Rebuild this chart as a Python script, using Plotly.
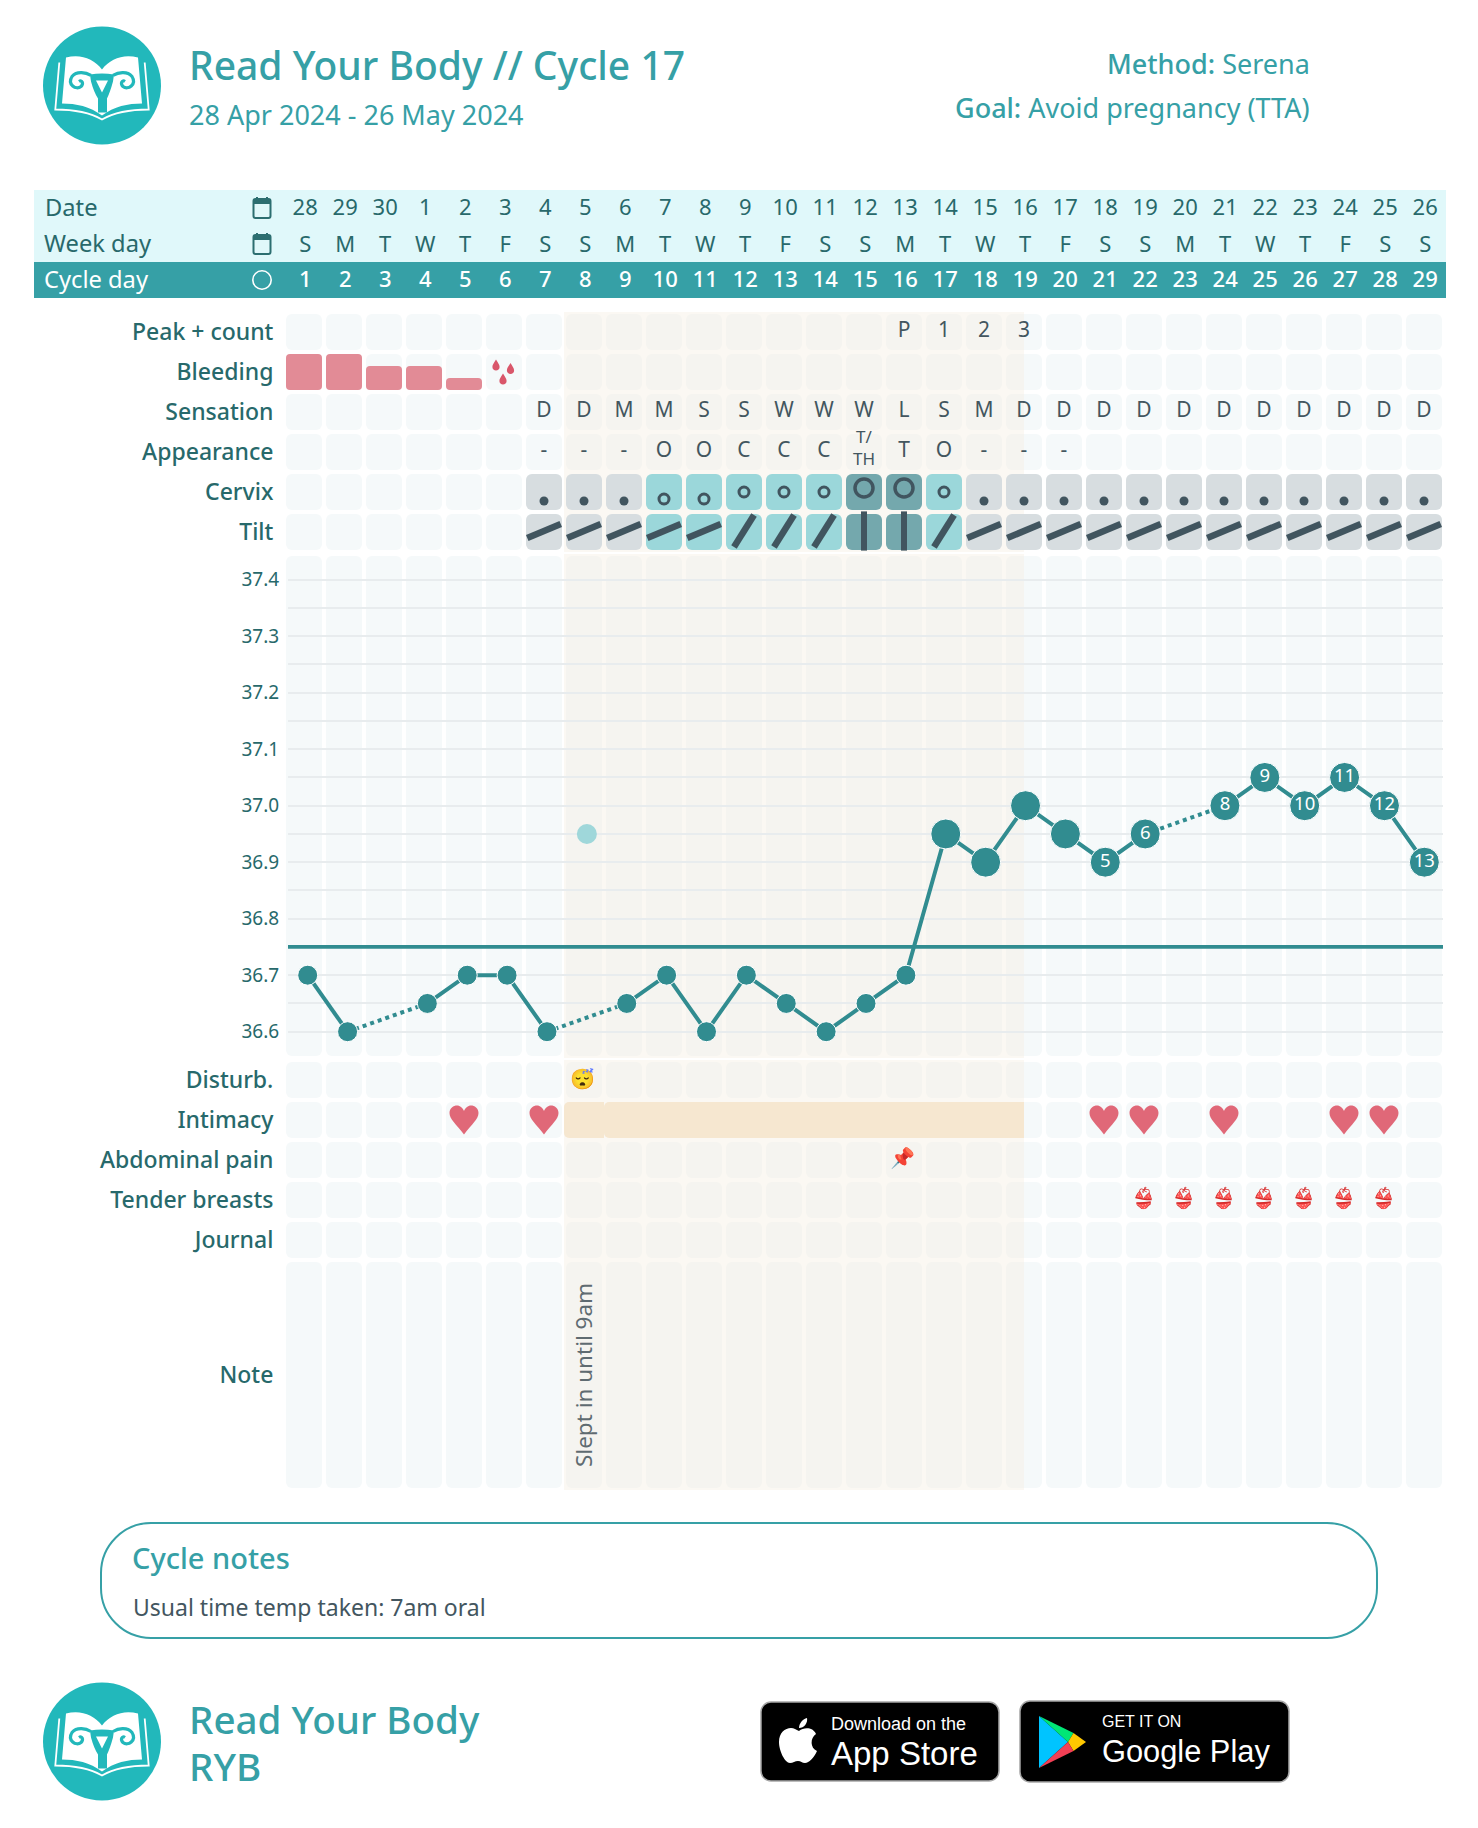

import plotly.graph_objects as go

W, H = 1478, 1828
FONT = "Noto Sans"
TICKFONT = "Noto Sans"
TEAL = "#36a0a6"; DTEAL = "#318c90"; LOGO = "#22b8bb"; LABEL = "#27696b"; INK = "#43565f"
CELL = "#f5f9fa"; GREY = "#d7dde0"; MID = "#9bd7da"; DARK = "#74a8ad"; GLYPH = "#41555f"

# ---------- data ----------
DAYS = list(range(1, 30))
DATES = ["28","29","30","1","2","3","4","5","6","7","8","9","10","11","12","13","14","15","16","17","18","19","20","21","22","23","24","25","26"]
WEEKDAYS = list("SMTWTFSSMTWTFSSMTWTFSSMTWTFSS")
CYCLE_DAYS = [str(d) for d in DAYS]
PEAK_DAYS = [16, 17, 18, 19]
PEAK_TEXT = ["P", "1", "2", "3"]
BLEED_DAYS = [1, 2, 3, 4, 5]
BLEED_LEVEL = [3, 3, 2, 2, 1]
SPOTTING_DAY = 6
OBS_DAYS = list(range(7, 30))
SENSATION = list("DDMMSSWWWLSMDDDDDDDDDDD")
APPEAR_DAYS = [7, 8, 9, 10, 11, 12, 13, 14, 16, 17, 18, 19, 20]
APPEARANCE = ["-", "-", "-", "O", "O", "C", "C", "C", "T", "O", "-", "-", "-"]
APPEAR_SPLIT_DAY = [15]
APPEAR_SPLIT = ["T/<br>TH"]
CERVIX = list("LLLmmMMMHHMLLLLLLLLLLLL")
TILT = list("LLLLLSSSVVSLLLLLLLLLLLL")
TEMPS = [36.7, 36.6, None, 36.65, 36.7, 36.7, 36.6, None, 36.65, 36.7, 36.6, 36.7, 36.65, 36.6, 36.65,
         36.7, 36.95, 36.9, 37.0, 36.95, 36.9, 36.95, None, 37.0, 37.05, 37.0, 37.05, 37.0, 36.9]
EXCLUDED_DAY = [8]
EXCLUDED_TEMP = [36.95]
COUNTS = [""] * 20 + ["5", "6", "", "8", "9", "10", "11", "12", "13"]
COVERLINE = 36.75
TEMP_TICKS = [36.6, 36.65, 36.7, 36.75, 36.8, 36.85, 36.9, 36.95, 37.0, 37.05, 37.1, 37.15, 37.2, 37.25, 37.3, 37.35, 37.4]
TEMP_LABELS = ["36.6", "", "36.7", "", "36.8", "", "36.9", "", "37.0", "", "37.1", "", "37.2", "", "37.3", "", "37.4"]
INTIMACY_DAYS = [5, 7, 21, 22, 24, 27, 28]
FERTILE_START, FERTILE_END = 7.5, 19.0
INTIMACY_SPANS = [(7.5, 8.5), (8.5, 19.0)]
DISTURB = [(8, "😴")]
PAIN = [(16, "📌")]
BREAST_DAYS = [22, 23, 24, 25, 26, 27, 28]
NOTE_DAY = 8
NOTE_TEXT = "Slept in until 9am"
ROW_NAMES = ["Peak + count", "Bleeding", "Sensation", "Appearance", "Cervix", "Tilt", "Disturb.", "Intimacy",
             "Abdominal pain", "Tender breasts", "Journal", "Note"]

# ---------- layout geometry ----------
X0, PITCH = 304.0, 40.0
X0T, PITCHT = 307.7, 39.88          # the temperature plot has its own slightly narrower day scale
ROW0, RPITCH = 332.0, 40.0
def xval(px): return (px - X0) / PITCH + 1
def xtval(px): return (px - X0T) / PITCHT + 1
def rval(py): return (py - ROW0) / RPITCH
T_Y, T_PITCH = 805.7, 565.0
def tval(py): return 37.0 - (py - T_Y) / T_PITCH
ROW_POS = {"Peak + count": 0, "Bleeding": 1, "Sensation": 2, "Appearance": 3, "Cervix": 4, "Tilt": 5,
           "Disturb.": rval(1080), "Intimacy": rval(1120), "Abdominal pain": rval(1160),
           "Tender breasts": rval(1200), "Journal": rval(1240), "Note": rval(1375)}
ROW_H = {n: 0.9 for n in ROW_NAMES}
ROW_H["Note"] = 226 / RPITCH
CHART_ROW, CHART_H = rval(806), 500 / RPITCH
HDR = {"date": rval(209.5), "week": rval(246), "cycle": rval(281.5)}
HDR_DX = 1.2 / PITCH
CW = 36 / PITCH

fig = go.Figure()

def cells(days, centers, heights, colors, y, r=6):
    # a bar given a base has all four corners rounded
    fig.add_trace(go.Bar(x=days, y=list(heights), base=[c - h / 2 for c, h in zip(centers, heights)], width=CW,
                         marker=dict(color=colors, cornerradius=r, line=dict(width=0)),
                         xaxis="x", yaxis=y, hoverinfo="skip", showlegend=False))

def texts(x, y, t, size, color, ya="y3", xa="x", family=FONT, weight=400):
    fig.add_trace(go.Scatter(x=x, y=y, text=t, mode="text", textposition="middle center",
                             textfont=dict(family=family, size=size, color=color, weight=weight),
                             xaxis=xa, yaxis=ya, hoverinfo="skip", showlegend=False, cliponaxis=False))

# background cells
cx, cy, ch = [], [], []
for n in ROW_NAMES:
    for d in DAYS:
        cx.append(d); cy.append(ROW_POS[n]); ch.append(ROW_H[n])
for d in DAYS:
    cx.append(d); cy.append(CHART_ROW); ch.append(CHART_H)
cells(cx, cy, ch, CELL, "y")

# fertile band, over the empty cells
for top, bot in [(312, 552), (554, 1058), (1060, 1490)]:
    fig.add_trace(go.Bar(x=[(FERTILE_START + FERTILE_END) / 2], y=[rval(bot) - rval(top)], base=[rval(top)],
                         width=FERTILE_END - FERTILE_START,
                         marker=dict(color="rgba(245,238,225,0.4)", line=dict(width=0)),
                         xaxis="x", yaxis="y2", hoverinfo="skip", showlegend=False))

# marks in rows
state_color = {"L": GREY, "m": MID, "M": MID, "H": DARK}
cells(BLEED_DAYS, [ROW_POS["Bleeding"] + 0.45 - 0.15 * v for v in BLEED_LEVEL], [0.3 * v for v in BLEED_LEVEL], "#e28b96", "y3", r=4)
obs_colors = [state_color[s] for s in CERVIX]
cells(OBS_DAYS, [ROW_POS["Cervix"]] * len(OBS_DAYS), [0.9] * len(OBS_DAYS), obs_colors, "y3")
cells(OBS_DAYS, [ROW_POS["Tilt"]] * len(OBS_DAYS), [0.9] * len(OBS_DAYS), obs_colors, "y3")
for a, b in INTIMACY_SPANS:
    fig.add_trace(go.Bar(x=[b - a], base=[a], y=[ROW_POS["Intimacy"]], orientation="h", width=0.9,
                         marker=dict(color="#f6e7d0", cornerradius=5, line=dict(width=0)),
                         xaxis="x", yaxis="y3", hoverinfo="skip", showlegend=False))
    fig.add_trace(go.Bar(x=[(b - a) / 2], base=[(a + b) / 2], y=[ROW_POS["Intimacy"]], orientation="h", width=0.9,
                         marker=dict(color="#f6e7d0", line=dict(width=0)),
                         xaxis="x", yaxis="y3", hoverinfo="skip", showlegend=False))

cerv_style = {"L": ("circle", 9, 0, 9), "m": ("circle-open", 10, 3, 7), "M": ("circle-open", 10, 3, 0), "H": ("circle-open", 18, 3.5, -4)}
fig.add_trace(go.Scatter(x=OBS_DAYS, y=[ROW_POS["Cervix"] + cerv_style[s][3] / RPITCH for s in CERVIX], mode="markers",
                         marker=dict(symbol=[cerv_style[s][0] for s in CERVIX], size=[cerv_style[s][1] for s in CERVIX], opacity=1,
                                     color=GLYPH, line=dict(color=GLYPH, width=[cerv_style[s][2] for s in CERVIX])),
                         xaxis="x", yaxis="y3", hoverinfo="skip", showlegend=False))
tilt_style = {"L": (-23, 26, 6.5), "S": (-58, 27, 6.5), "V": (-90, 28, 6)}
fig.add_trace(go.Scatter(x=OBS_DAYS, y=[ROW_POS["Tilt"] - 1 / RPITCH] * len(OBS_DAYS), mode="markers",
                         marker=dict(symbol="line-ew", angle=[tilt_style[s][0] for s in TILT], size=[tilt_style[s][1] for s in TILT], opacity=1,
                                     color=GLYPH, line=dict(color=GLYPH, width=[tilt_style[s][2] for s in TILT])),
                         xaxis="x", yaxis="y3", hoverinfo="skip", showlegend=False))

texts(PEAK_DAYS, [ROW_POS["Peak + count"]] * 4, PEAK_TEXT, 21, INK)
texts(OBS_DAYS, [ROW_POS["Sensation"]] * len(OBS_DAYS), SENSATION, 21, INK)
texts(APPEAR_DAYS, [ROW_POS["Appearance"]] * len(APPEAR_DAYS), APPEARANCE, 21, INK)
texts(APPEAR_SPLIT_DAY, [ROW_POS["Appearance"] - 2 / RPITCH], APPEAR_SPLIT, 17, INK)
hx = [d + HDR_DX for d in DAYS]
texts(hx, [HDR["date"]] * 29, DATES, 22, "#28696b")
texts(hx, [HDR["week"]] * 29, WEEKDAYS, 22, "#28696b")
texts(hx, [HDR["cycle"]] * 29, CYCLE_DAYS, 22, "white", weight=500)
for d, e in DISTURB:
    texts([d - 1 / PITCH], [ROW_POS["Disturb."] + 1 / RPITCH], [e], 20, "#000", family="Noto Color Emoji")
for d, e in PAIN:
    texts([d - 1 / PITCH], [ROW_POS["Abdominal pain"]], [e], 20, "#000", family="Noto Color Emoji")
texts(BREAST_DAYS, [ROW_POS["Tender breasts"]] * len(BREAST_DAYS), ["👙"] * len(BREAST_DAYS), 20, "#000", family="Noto Color Emoji")

# temperature chart
gx, gy = [], []
prev = None
for d, t in zip(DAYS, TEMPS):
    if t is None:
        continue
    if prev is not None and d - prev[0] > 1:
        gx += [prev[0], d, None]; gy += [prev[1], t, None]
    prev = (d, t)
fig.add_trace(go.Scatter(x=gx, y=gy, mode="lines", line=dict(color=DTEAL, width=4, dash="dot"),
                         xaxis="x2", yaxis="y4", hoverinfo="skip", showlegend=False, connectgaps=False))
fig.add_trace(go.Scatter(x=DAYS, y=TEMPS, mode="lines+markers+text", text=COUNTS, textposition="middle center",
                         textfont=dict(family=TICKFONT, size=18.5, color="white"),
                         line=dict(color=DTEAL, width=4),
                         marker=dict(color=DTEAL, opacity=1, size=[30 if d > 16 else 20 for d in DAYS]),
                         xaxis="x2", yaxis="y4", hoverinfo="skip", showlegend=False, connectgaps=False, cliponaxis=False))
fig.add_trace(go.Scatter(x=EXCLUDED_DAY, y=EXCLUDED_TEMP, mode="markers", marker=dict(color="#9fd7da", size=20),
                         xaxis="x2", yaxis="y4", hoverinfo="skip", showlegend=False))

# ---------- page furniture ----------
def PX(x): return x / W
def PY(y): return 1 - y / H

def pg(d, ox=0, oy=0):
    out = []
    for tok in d.split():
        if "," in tok:
            a, b = tok.split(",")
            out.append(f"{PX(float(a) + ox):.5f},{PY(float(b) + oy):.5f}")
        else:
            out.append(tok)
    return " ".join(out)

shapes = []
def shp(d, fill=None, line=None, lw=0, ox=0, oy=0, layer="above"):
    s = dict(type="path", xref="paper", yref="paper", path=pg(d, ox, oy), layer=layer, line=dict(width=lw, color=line or "rgba(0,0,0,0)"))
    if fill: s["fillcolor"] = fill
    shapes.append(s)

def rect(x0, y0, x1, y1, fill=None, line=None, lw=0, layer="below"):
    s = dict(type="rect", xref="paper", yref="paper", x0=PX(x0), x1=PX(x1), y0=PY(y0), y1=PY(y1), layer=layer,
             line=dict(width=lw, color=line or "rgba(0,0,0,0)"))
    if fill: s["fillcolor"] = fill
    shapes.append(s)

def circ(cx_, cy_, r, fill=None, line=None, lw=0, layer="above"):
    s = dict(type="circle", xref="paper", yref="paper", x0=PX(cx_ - r), x1=PX(cx_ + r), y0=PY(cy_ - r), y1=PY(cy_ + r), layer=layer,
             line=dict(width=lw, color=line or "rgba(0,0,0,0)"))
    if fill: s["fillcolor"] = fill
    shapes.append(s)

def rrect(x0, y0, x1, y1, r, fill=None, line=None, lw=0):
    k = r * 0.45
    d = (f"M {x0 + r},{y0} L {x1 - r},{y0} C {x1 - k},{y0} {x1},{y0 + k} {x1},{y0 + r} L {x1},{y1 - r} "
         f"C {x1},{y1 - k} {x1 - k},{y1} {x1 - r},{y1} L {x0 + r},{y1} C {x0 + k},{y1} {x0},{y1 - k} {x0},{y1 - r} "
         f"L {x0},{y0 + r} C {x0},{y0 + k} {x0 + k},{y0} {x0 + r},{y0} Z")
    shp(d, fill, line, lw)

def logo(cx_, cy_):
    circ(cx_, cy_, 59, LOGO)
    kw = dict(ox=cx_, oy=cy_)
    shp("M -36,-28 C -22,-32 -8,-27 0,-16 L 0,30 C -12,21 -26,18 -40,18 Z", "white", **kw)
    shp("M 36,-28 C 22,-32 8,-27 0,-16 L 0,30 C 12,21 26,18 40,18 Z", "white", **kw)
    shp("M -42.7,-23 L -46.7,24 C -28,24 -12,27 0,34 C 12,27 28,24 46.7,24 L 42.7,-23", None, "white", 1.8, **kw)
    shp("M -11,-10 C -16,-13 -25,-15 -30,-9 C -35,-1 -26,5 -21,1 C -18,-2 -20,-6 -23,-4", None, LOGO, 3.2, **kw)
    shp("M 11,-10 C 16,-13 25,-15 30,-9 C 35,-1 26,5 21,1 C 18,-2 20,-6 23,-4", None, LOGO, 3.2, **kw)
    shp("M -12,-11 Q 0,-13 12,-11 L 11,-4 Q 8,7 5,13 L 5,27 L -4,27 L -4,13 Q -8,7 -11,-4 Z", LOGO, **kw)
    shp("M -6,-5 L 6,-5 L 0,7 Z", "white", **kw)

def calendar(cy_):
    c = "#2c6e70"
    rrect(253.5, cy_ - 9, 270.5, cy_ + 10, 2, None, c, 2)
    rect(253, cy_ - 9, 271, cy_ - 4, c, layer="above")
    rect(256, cy_ - 11, 258, cy_ - 8, c, layer="above")
    rect(266, cy_ - 11, 268, cy_ - 8, c, layer="above")

# header bands
rect(34, 190, 1446, 262, "#e0f8fa")
rect(34, 262, 1446, 298, TEAL)
calendar(208); calendar(244)
circ(262, 280, 9.2, None, "white", 1.6)

logo(102, 85.5)
logo(102, 1741.5)

# coverline
shapes.append(dict(type="line", xref="x2 domain", x0=0, x1=1, yref="y4", y0=COVERLINE, y1=COVERLINE, line=dict(color=DTEAL, width=3.7), layer="above"))

# hearts and droplets in data space
HEART = "M 0,14.5 C -8,4 -14.5,-1 -14.5,-7 C -14.5,-12 -10.5,-14.5 -7,-14.5 C -4,-14.5 -1,-12 0,-9 C 1,-12 4,-14.5 7,-14.5 C 10.5,-14.5 14.5,-12 14.5,-7 C 14.5,-1 8,4 0,14.5 Z"
DROP = "M 0,-5.5 C 2,-2 3.6,-0.5 3.6,2 C 3.6,4 2,5.5 0,5.5 C -2,5.5 -3.6,4 -3.6,2 C -3.6,-0.5 -2,-2 0,-5.5 Z"
def datapath(d, day, row, ox=0, oy=0):
    out = []
    for tok in d.split():
        if "," in tok:
            a, b = tok.split(",")
            out.append(f"{day + (float(a) + ox) / PITCH:.4f},{row + (float(b) + oy) / RPITCH:.4f}")
        else:
            out.append(tok)
    return " ".join(out)
for d in INTIMACY_DAYS:
    shapes.append(dict(type="path", xref="x", yref="y3", path=datapath(HEART, d, ROW_POS["Intimacy"]), fillcolor="#e06878", line=dict(width=0), layer="above"))
for ox, oy in [(-8, -7), (6.5, -3.5), (-1, 7)]:
    shapes.append(dict(type="path", xref="x", yref="y3", path=datapath(DROP, SPOTTING_DAY, ROW_POS["Bleeding"], ox, oy), fillcolor="#d9566a", line=dict(width=0), layer="above"))

# notes box
rrect(101, 1523, 1377, 1638, 50, None, TEAL, 2)

# badges
rrect(761, 1702, 999, 1781, 10, "black", "#a6a6a6", 1.5)
rrect(1020, 1701, 1289, 1782, 10, "black", "#a6a6a6", 1.5)
shp("M 1,-10 C 6,-14 15,-14 18,-7 C 12,-3 12,7 19,10 C 16,17 11,22 7,22 C 4,22 3,20 0,20 C -3,20 -5,22 -8,22 C -13,22 -19,10 -19,1 C -19,-8 -13,-13 -7,-13 C -4,-13 -2,-11 1,-10 Z", "white", ox=798, oy=1741)
shp("M 1,-13 C 1,-18 5,-22 9,-23 C 10,-18 6,-13 1,-13 Z", "white", ox=798, oy=1741)
shp("M 1039,1716 L 1068,1742 L 1039,1768 Z", "#00c4ff")
shp("M 1039,1716 L 1073.5,1733 L 1068,1742 Z", "#00e676")
shp("M 1073.5,1733 L 1086,1742 L 1073.5,1751 L 1068,1742 Z", "#ffc800")
shp("M 1039,1768 L 1068,1742 L 1073.5,1751 Z", "#f23f55")

anns = []
def label(x, y, t, size, color, anchor="left", weight=400, family=FONT):
    anns.append(dict(xref="paper", yref="paper", x=PX(x), y=PY(y), text=t, showarrow=False, xanchor=anchor, yanchor="middle",
                     font=dict(family=family, size=size, color=color, weight=weight), borderpad=0, borderwidth=0))

MED = '<span style="font-weight:500">%s</span>'
label(189, 64, "Read Your Body // Cycle 17", 39, TEAL, weight=500)
label(189, 115, "28 Apr 2024 - 26 May 2024", 27, TEAL)
label(1310, 63, (MED % "Method:") + " Serena", 27, TEAL, "right")
label(1310, 107, (MED % "Goal:") + " Avoid pregnancy (TTA)", 27, TEAL, "right")
label(45, 207, "Date", 23.7, "#28696b")
label(44, 243, "Week day", 23.7, "#28696b")
label(44, 279, "Cycle day", 23.7, "white")
label(132, 1557, "Cycle notes", 29, TEAL, weight=500)
label(133, 1607, "Usual time temp taken: 7am oral", 23, INK)
label(189, 1719, "Read Your Body", 38.6, TEAL, weight=500)
label(189, 1766, "RYB", 38.6, TEAL, weight=500)
label(831, 1723.5, "Download on the", 18, "white", family="Liberation Sans")
label(831, 1753.5, "App Store", 33, "white", family="Liberation Sans")
label(1102, 1721, "GET IT ON", 16, "white", family="Liberation Sans")
label(1102, 1751, "Google Play", 30.8, "white", family="Liberation Sans")
anns.append(dict(xref="x", yref="y3", x=NOTE_DAY - 1 / PITCH, y=ROW_POS["Note"], text=NOTE_TEXT, textangle=-90, showarrow=False,
                 font=dict(family=FONT, size=22.5, color="#5f6b71")))

page_range = [rval(H), rval(0)]
common = dict(domain=[0, 1], range=page_range, showgrid=False, zeroline=False, anchor="x")
fig.update_layout(
    width=W, height=H, autosize=False, margin=dict(l=0, r=0, t=0, b=0, pad=0),
    paper_bgcolor="white", plot_bgcolor="rgba(0,0,0,0)", barmode="overlay", showlegend=False,
    xaxis=dict(domain=[PX(284), PX(1446)], range=[xval(284), xval(1446)], visible=False),
    xaxis2=dict(domain=[PX(288), PX(1443)], range=[xtval(288), xtval(1443)], visible=False, anchor="y4"),
    yaxis=dict(**common, tickmode="array", tickvals=[ROW_POS[n] for n in ROW_NAMES], ticktext=ROW_NAMES,
               tickfont=dict(family=FONT, size=23, color=LABEL, weight=500), ticks="outside", ticklen=5, tickcolor="rgba(0,0,0,0)", showline=False),
    yaxis2=dict(**common, visible=False),
    yaxis3=dict(**common, visible=False),
    yaxis4=dict(domain=[PY(1056), PY(556)], range=[tval(1056), tval(556)], anchor="x2", zeroline=False,
                tickmode="array", tickvals=TEMP_TICKS, ticktext=TEMP_LABELS, showgrid=True, gridcolor="#e8ecee", gridwidth=1.6,
                tickfont=dict(family=TICKFONT, size=19, color=LABEL), ticks="outside", ticklen=4, tickcolor="rgba(0,0,0,0)"),
    shapes=shapes, annotations=anns,
)

fig.write_html("out.html", config={"displayModeBar": False},
               post_script="document.body.style.margin='0';document.documentElement.style.overflow='hidden';")
